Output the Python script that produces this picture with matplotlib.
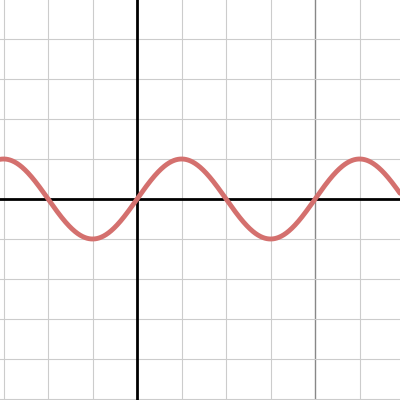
import numpy as np
import matplotlib
matplotlib.use("Agg")
import matplotlib.pyplot as plt

# Graph of y = sin(x), Desmos-style view
x_range = [-4.84, 9.28]
y_range = [-5.025, 4.975]
amplitude = 1.0
x = np.linspace(x_range[0], x_range[1], 800)
y = amplitude * np.sin(x)

fig = plt.figure(figsize=(4, 4), dpi=100)
ax = fig.add_axes([0, 0, 1, 1])
ax.set_xlim(*x_range)
ax.set_ylim(*y_range)

step = np.pi / 2
for k in range(-4, 7):
    xv = k * step
    if k == 0:
        continue
    major = (k % 4 == 0)
    ax.axvline(xv, color="#888888" if major else "#cccccc", lw=1.0 if major else 0.8, zorder=1)
for k in range(-6, 6):
    if k == 0:
        continue
    ax.axhline(k, color="#cccccc", lw=0.8, zorder=1)
ax.axvline(0, color="black", lw=2, zorder=2)
ax.axhline(0, color="black", lw=2, zorder=2)

ax.plot(x, y, color="#d4706e", lw=3.5, zorder=3, solid_capstyle="round")
ax.set_xticks([]); ax.set_yticks([])
for s in ax.spines.values():
    s.set_visible(False)
fig.savefig("out.png", dpi=100)
